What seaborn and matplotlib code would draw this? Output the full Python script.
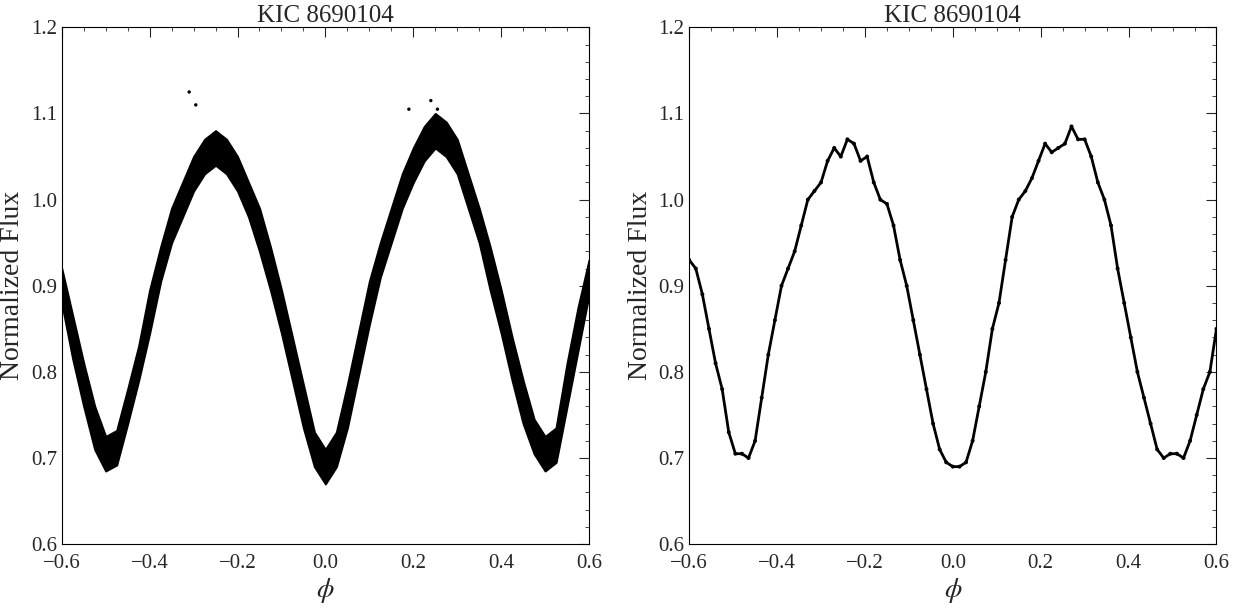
import seaborn as sns
import matplotlib.pyplot as plt
import numpy as np

sns.set_style('white')
plt.rcParams['font.family'] = ['Liberation Serif', 'DejaVu Serif']
plt.rcParams['mathtext.fontset'] = 'stix'
plt.rcParams.update({'font.size': 16})

phase_l = [-0.6, -0.575, -0.55, -0.525, -0.5, -0.475, -0.45, -0.425, -0.4, -0.375, -0.35, -0.325,
           -0.3, -0.275, -0.25, -0.225, -0.2, -0.175, -0.15, -0.125, -0.1, -0.075, -0.05, -0.025,
           0.0, 0.025, 0.05, 0.075, 0.1, 0.125, 0.15, 0.175, 0.2, 0.225, 0.25, 0.275,
           0.3, 0.325, 0.35, 0.375, 0.4, 0.425, 0.45, 0.475, 0.5, 0.525, 0.55, 0.575, 0.6]
flux_l = [0.90, 0.84, 0.785, 0.735, 0.705, 0.712, 0.76, 0.81, 0.87, 0.925, 0.97, 1.00,
          1.03, 1.05, 1.06, 1.05, 1.03, 1.00, 0.965, 0.92, 0.87, 0.815, 0.76, 0.71,
          0.69, 0.71, 0.76, 0.82, 0.88, 0.93, 0.97, 1.01, 1.04, 1.065, 1.08, 1.07,
          1.05, 1.01, 0.97, 0.92, 0.87, 0.815, 0.765, 0.725, 0.705, 0.715, 0.785, 0.85, 0.91]
width_l = [0.02, 0.025, 0.025, 0.025, 0.02, 0.02, 0.02, 0.02, 0.025, 0.02, 0.02, 0.02,
           0.02, 0.02, 0.02, 0.02, 0.02, 0.02, 0.025, 0.025, 0.025, 0.025, 0.025, 0.02,
           0.02, 0.02, 0.025, 0.025, 0.025, 0.02, 0.02, 0.02, 0.02, 0.02, 0.02, 0.02,
           0.02, 0.02, 0.02, 0.025, 0.025, 0.025, 0.025, 0.02, 0.02, 0.02, 0.025, 0.025, 0.02]
out_x = [-0.31, -0.295, 0.19, 0.24, 0.255, -0.56, 0.56]
out_y = [1.125, 1.11, 1.105, 1.115, 1.105, 0.80, 0.79]

# right panel: binned curve
phase_r = [-0.6, -0.585, -0.57, -0.555, -0.54, -0.525, -0.51, -0.495, -0.48, -0.465, -0.45, -0.435,
           -0.42, -0.405, -0.39, -0.375, -0.36, -0.345, -0.33, -0.315, -0.3, -0.285, -0.27, -0.255,
           -0.24, -0.225, -0.21, -0.195, -0.18, -0.165, -0.15, -0.135, -0.12, -0.105, -0.09, -0.075,
           -0.06, -0.045, -0.03, -0.015, 0.0, 0.015, 0.03, 0.045, 0.06, 0.075, 0.09, 0.105,
           0.12, 0.135, 0.15, 0.165, 0.18, 0.195, 0.21, 0.225, 0.24, 0.255, 0.27, 0.285,
           0.3, 0.315, 0.33, 0.345, 0.36, 0.375, 0.39, 0.405, 0.42, 0.435, 0.45, 0.465,
           0.48, 0.495, 0.51, 0.525, 0.54, 0.555, 0.57, 0.585, 0.6]
flux_r = [0.93, 0.92, 0.89, 0.85, 0.81, 0.78, 0.73, 0.705, 0.705, 0.70, 0.72, 0.77,
          0.82, 0.86, 0.90, 0.92, 0.94, 0.97, 1.00, 1.01, 1.02, 1.045, 1.06, 1.05,
          1.07, 1.065, 1.045, 1.05, 1.02, 1.00, 0.995, 0.97, 0.93, 0.90, 0.86, 0.82,
          0.78, 0.74, 0.71, 0.695, 0.69, 0.69, 0.695, 0.72, 0.76, 0.80, 0.85, 0.88,
          0.93, 0.98, 1.00, 1.01, 1.025, 1.045, 1.065, 1.055, 1.06, 1.065, 1.085, 1.07,
          1.07, 1.05, 1.02, 1.00, 0.97, 0.92, 0.88, 0.84, 0.80, 0.77, 0.74, 0.71,
          0.70, 0.705, 0.705, 0.70, 0.72, 0.75, 0.78, 0.80, 0.85]

fig, axes = plt.subplots(1, 2, figsize=(12.35, 6.08), dpi=100)
ax = axes[0]
lo = np.array(flux_l) - np.array(width_l)
hi = np.array(flux_l) + np.array(width_l)
ax.fill_between(phase_l, lo, hi, color='black', lw=1.5, edgecolor='black')
sns.lineplot(x=phase_l, y=flux_l, color='black', lw=2, ax=ax, solid_joinstyle='round')
sns.scatterplot(x=out_x, y=out_y, color='black', s=6, edgecolor='none', ax=ax)

ax = axes[1]
sns.lineplot(x=phase_r, y=flux_r, color='black', lw=2, ax=ax, solid_joinstyle='round')
sns.scatterplot(x=phase_r, y=flux_r, color='black', s=8, edgecolor='none', ax=ax)

for ax in axes:
    ax.set_xlim(-0.6, 0.6)
    ax.set_ylim(0.6, 1.2)
    ax.set_xticks(np.arange(-0.6, 0.61, 0.2))
    ax.set_xticklabels(['\u22120.6', '\u22120.4', '\u22120.2', '0.0', '0.2', '0.4', '0.6'])
    ax.set_yticks(np.arange(0.6, 1.21, 0.1))
    ax.set_yticklabels(['0.6', '0.7', '0.8', '0.9', '1.0', '1.1', '1.2'])
    ax.minorticks_on()
    ax.tick_params(which='both', direction='in', top=True, right=True, labelsize=15)
    ax.tick_params(which='major', length=7)
    ax.tick_params(which='minor', length=3)
    ax.tick_params(axis='x', pad=7)
    ax.set_xlabel(r'$\phi$', fontsize=20, labelpad=2)
    ax.set_ylabel('Normalized Flux', fontsize=20)
    ax.set_title('KIC 8690104', fontsize=18, pad=4)
    for s in ax.spines.values():
        s.set_color('black')

plt.subplots_adjust(left=0.05, right=0.985, bottom=0.105, top=0.955, wspace=0.19)
plt.savefig('out.png')
